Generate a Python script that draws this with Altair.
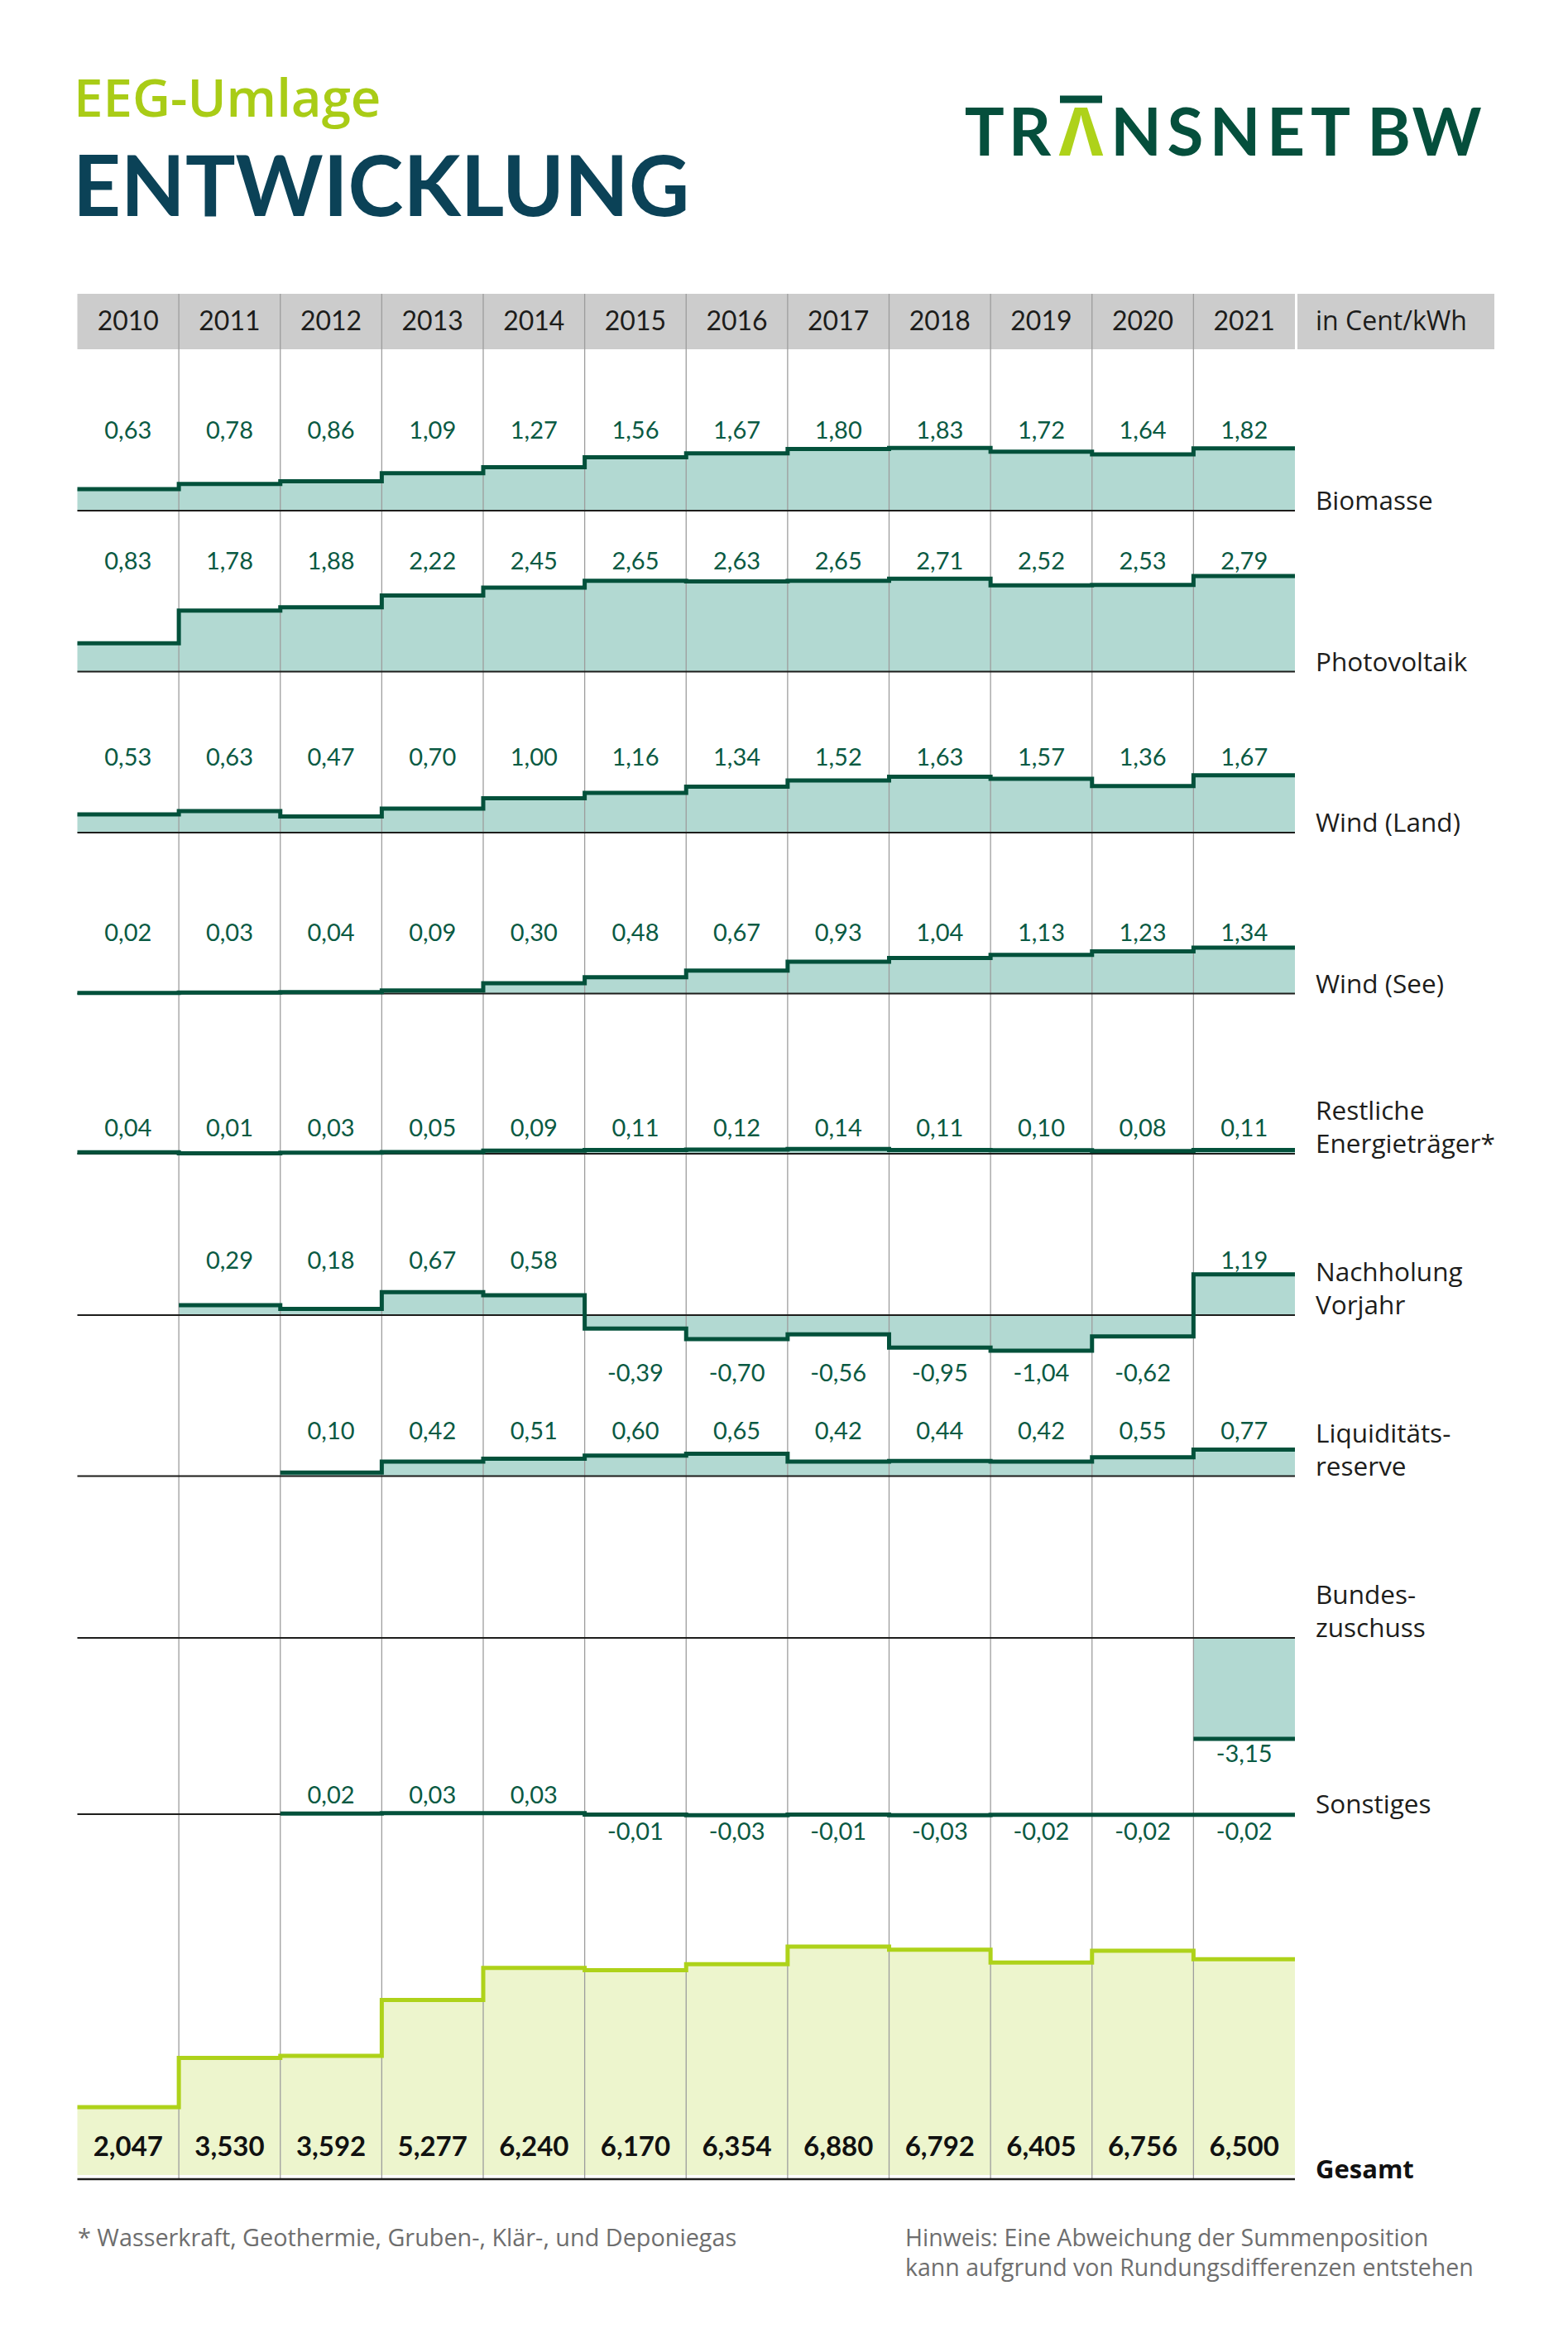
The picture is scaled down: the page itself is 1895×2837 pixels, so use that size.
import altair as alt
import pandas as pd

# ---------------- data ----------------
years = list(range(2010, 2022))
biomasse = [0.63, 0.78, 0.86, 1.09, 1.27, 1.56, 1.67, 1.80, 1.83, 1.72, 1.64, 1.82]
photovoltaik = [0.83, 1.78, 1.88, 2.22, 2.45, 2.65, 2.63, 2.65, 2.71, 2.52, 2.53, 2.79]
wind_land = [0.53, 0.63, 0.47, 0.70, 1.00, 1.16, 1.34, 1.52, 1.63, 1.57, 1.36, 1.67]
wind_see = [0.02, 0.03, 0.04, 0.09, 0.30, 0.48, 0.67, 0.93, 1.04, 1.13, 1.23, 1.34]
restliche = [0.04, 0.01, 0.03, 0.05, 0.09, 0.11, 0.12, 0.14, 0.11, 0.10, 0.08, 0.11]
nachholung = [None, 0.29, 0.18, 0.67, 0.58, -0.39, -0.70, -0.56, -0.95, -1.04, -0.62, 1.19]
liquiditaet = [None, None, 0.10, 0.42, 0.51, 0.60, 0.65, 0.42, 0.44, 0.42, 0.55, 0.77]
bundeszuschuss = [None, None, None, None, None, None, None, None, None, None, None, -3.15]
sonstiges = [None, None, 0.02, 0.03, 0.03, -0.01, -0.03, -0.01, -0.03, -0.02, -0.02, -0.02]
gesamt = [2.047, 3.530, 3.592, 5.277, 6.240, 6.170, 6.354, 6.880, 6.792, 6.405, 6.756, 6.500]

row_names = [["Biomasse"], ["Photovoltaik"], ["Wind (Land)"], ["Wind (See)"],
             ["Restliche", "Energieträger*"], ["Nachholung", "Vorjahr"],
             ["Liquiditäts-", "reserve"], ["Bundes-", "zuschuss"], ["Sonstiges"]]
row_values = [biomasse, photovoltaik, wind_land, wind_see, restliche,
              nachholung, liquiditaet, bundeszuschuss, sonstiges]

title_small = "EEG-Umlage"
title_big = "ENTWICKLUNG"
unit_label = "in Cent/kWh"
total_name = "Gesamt"
foot_left = "* Wasserkraft, Geothermie, Gruben-, Klär-, und Deponiegas"
foot_right = ["Hinweis: Eine Abweichung der Summenposition",
              "kann aufgrund von Rundungsdifferenzen entstehen"]

# ---------------- layout / style ----------------
W, H = 1895, 2837
FONT = "Lato"
FONT2 = "Open Sans"
X_LEFT, X_RIGHT = 93.5, 1565.0
COLW = (X_RIGHT - X_LEFT) / 12
xs = alt.Scale(domain=[2010 - X_LEFT / COLW, 2010 + (W - X_LEFT) / COLW], nice=False, zero=False)

# base px, px per unit, label baseline (pos), label baseline (neg)
row_layout = [
    (617.0, 41.4, 530, None),
    (811.5, 41.4, 688, None),
    (1006.0, 41.4, 925, None),
    (1200.5, 41.4, 1137, None),
    (1394.0, 41.4, 1373, None),
    (1589.0, 41.4, 1533, 1669),
    (1783.5, 41.4, 1739, None),
    (1979.0, 38.7, None, 2129),
    (2192.0, 41.4, 2179, 2223),
]
GES_BASE, GES_PPU, GES_LABEL_Y, GES_AXIS = 2628.0, 40.1, 2605, 2633

TEAL = "#b2d9d2"
DARK = "#03513b"
LABEL = "#0a5a43"
LIME = "#aed21a"
LIME_FILL = "#edf5cd"
GRID = "#9d9d9d"
BLACK = "#1d1d1b"


def yscale(base, ppu):
    return alt.Scale(domain=[-(H - base) / ppu, base / ppu], nice=False, zero=False)


def fmt(v, d=2):
    return f"{v:.{d}f}".replace(".", ",")


def step_df(vals):
    recs = [{"year": y, "v": v} for y, v in zip(years, vals) if v is not None]
    recs.append({"year": 2022, "v": recs[-1]["v"]})
    return pd.DataFrame(recs)


def label_df(vals, d=2):
    return pd.DataFrame([{"year": y, "xc": y + 0.5, "v": v, "t": fmt(v, d)}
                         for y, v in zip(years, vals) if v is not None])


one = pd.DataFrame({"k": [0]})
X = lambda f: alt.X(f, scale=xs, axis=None)


def txt(s, x, y, size, color=BLACK, weight="normal", align="left", font=FONT):
    return alt.Chart(one).mark_text(
        text=s, font=font, fontSize=size, fontWeight=weight, color=color,
        align=align, baseline="alphabetic"
    ).encode(x=alt.value(x), y=alt.value(y))


layers = []

# header bar
layers.append(alt.Chart(one).mark_rect(color="#cccccc").encode(
    x=alt.X(datum=2010, scale=xs, axis=None), x2=alt.X2(datum=2022),
    y=alt.value(355), y2=alt.value(422)))
layers.append(alt.Chart(one).mark_rect(color="#cccccc").encode(
    x=alt.value(1568), x2=alt.value(1806), y=alt.value(355), y2=alt.value(422)))

# areas
for vals, (base, ppu, _, _) in zip(row_values, row_layout):
    layers.append(alt.Chart(step_df(vals)).mark_area(
        interpolate="step-after", color=TEAL, opacity=1).encode(
        x=X("year:Q"), y=alt.Y("v:Q", scale=yscale(base, ppu), axis=None),
        y2=alt.datum(0)))
layers.append(alt.Chart(step_df(gesamt)).mark_area(
    interpolate="step-after", color=LIME_FILL, opacity=1).encode(
    x=X("year:Q"), y=alt.Y("v:Q", scale=yscale(GES_BASE, GES_PPU), axis=None),
    y2=alt.value(GES_AXIS)))

# vertical column separators
layers.append(alt.Chart(pd.DataFrame({"year": years[1:]})).mark_rule(
    color=GRID, strokeWidth=1.3).encode(
    x=X("year:Q"), y=alt.value(355), y2=alt.value(GES_AXIS)))

# baselines
for base, ppu, _, _ in row_layout:
    layers.append(alt.Chart(one).mark_rule(color=BLACK, strokeWidth=2).encode(
        x=alt.X(datum=2010, scale=xs, axis=None), x2=alt.X2(datum=2022),
        y=alt.Y(datum=0, scale=yscale(base, ppu), axis=None)))
layers.append(alt.Chart(one).mark_rule(color=BLACK, strokeWidth=2.5).encode(
    x=alt.X(datum=2010, scale=xs, axis=None), x2=alt.X2(datum=2022),
    y=alt.value(GES_AXIS)))

# step lines
for vals, (base, ppu, _, _) in zip(row_values, row_layout):
    layers.append(alt.Chart(step_df(vals)).mark_line(
        interpolate="step-after", color=DARK, strokeWidth=5,
        strokeJoin="miter", strokeCap="butt").encode(
        x=X("year:Q"), y=alt.Y("v:Q", scale=yscale(base, ppu), axis=None)))
layers.append(alt.Chart(step_df(gesamt)).mark_line(
    interpolate="step-after", color=LIME, strokeWidth=5,
    strokeJoin="miter", strokeCap="butt").encode(
    x=X("year:Q"), y=alt.Y("v:Q", scale=yscale(GES_BASE, GES_PPU), axis=None)))

# year header labels
layers.append(alt.Chart(pd.DataFrame({"xc": [y + 0.5 for y in years], "t": [str(y) for y in years]}))
              .mark_text(font=FONT, fontSize=32, color=BLACK, baseline="alphabetic", align="center")
              .encode(x=X("xc:Q"), y=alt.value(399), text="t:N"))
layers.append(txt(unit_label, 1590, 399, 32, font=FONT2))

# value labels
for vals, (base, ppu, ypos, yneg) in zip(row_values, row_layout):
    df = label_df(vals)
    pos, neg = df[df.v >= 0], df[df.v < 0]
    for part, yy in ((pos, ypos), (neg, yneg)):
        if len(part) and yy is not None:
            layers.append(alt.Chart(part).mark_text(
                font=FONT, fontSize=29, color=LABEL, baseline="alphabetic", align="center")
                .encode(x=X("xc:Q"), y=alt.value(yy), text="t:N"))
layers.append(alt.Chart(label_df(gesamt, 3)).mark_text(
    font=FONT, fontSize=33, fontWeight="bold", color="#111111", baseline="alphabetic", align="center")
    .encode(x=X("xc:Q"), y=alt.value(GES_LABEL_Y), text="t:N"))

# row names
for names, (base, ppu, _, _) in zip(row_names, row_layout):
    n = len(names)
    for i, s in enumerate(names):
        layers.append(txt(s, 1590, base - 1 - 40 * (n - 1 - i), 31.5, font=FONT2))
layers.append(txt(total_name, 1590, 2632, 31, weight="bold", color="#111111", font=FONT2))

# titles
layers.append(txt(title_small, 89, 141, 63.5, color="#a9cc16", weight=600, font=FONT2))
layers.append(txt(title_big, 88, 261, 101, color="#0b4257", weight="bold"))

# logo
logo_letters = [("T", 1189.7), ("R", 1244.5), ("N", 1373.0), ("S", 1432.5), ("N", 1492.5),
                ("E", 1554.0), ("T", 1608.0), ("B", 1678.5), ("W", 1748.5)]
for ch, cx in logo_letters:
    layers.append(txt(ch, cx, 188, 80, color="#054f3c", weight="bold", align="center"))
layers.append(txt("Λ", 1306.4, 188, 80, color=LIME, weight="bold", align="center", font="Noto Sans"))
layers.append(alt.Chart(one).mark_rule(color="#054f3c", strokeWidth=9).encode(
    x=alt.value(1281), x2=alt.value(1332), y=alt.value(120)))

# footnotes
layers.append(txt(foot_left, 94, 2714, 28.8, color="#6e6e6e", font=FONT2))
layers.append(txt(foot_right[0], 1094, 2714, 28.5, color="#6e6e6e", font=FONT2))
layers.append(txt(foot_right[1], 1094, 2750, 28.5, color="#6e6e6e", font=FONT2))

chart = alt.layer(*layers).resolve_scale(y="independent").properties(
    width=W, height=H, padding=0, background="white",
    autosize=alt.AutoSizeParams(type="none"),
).configure_view(stroke=None)

chart.save("out.html", embed_options={"renderer": "svg", "actions": False})
